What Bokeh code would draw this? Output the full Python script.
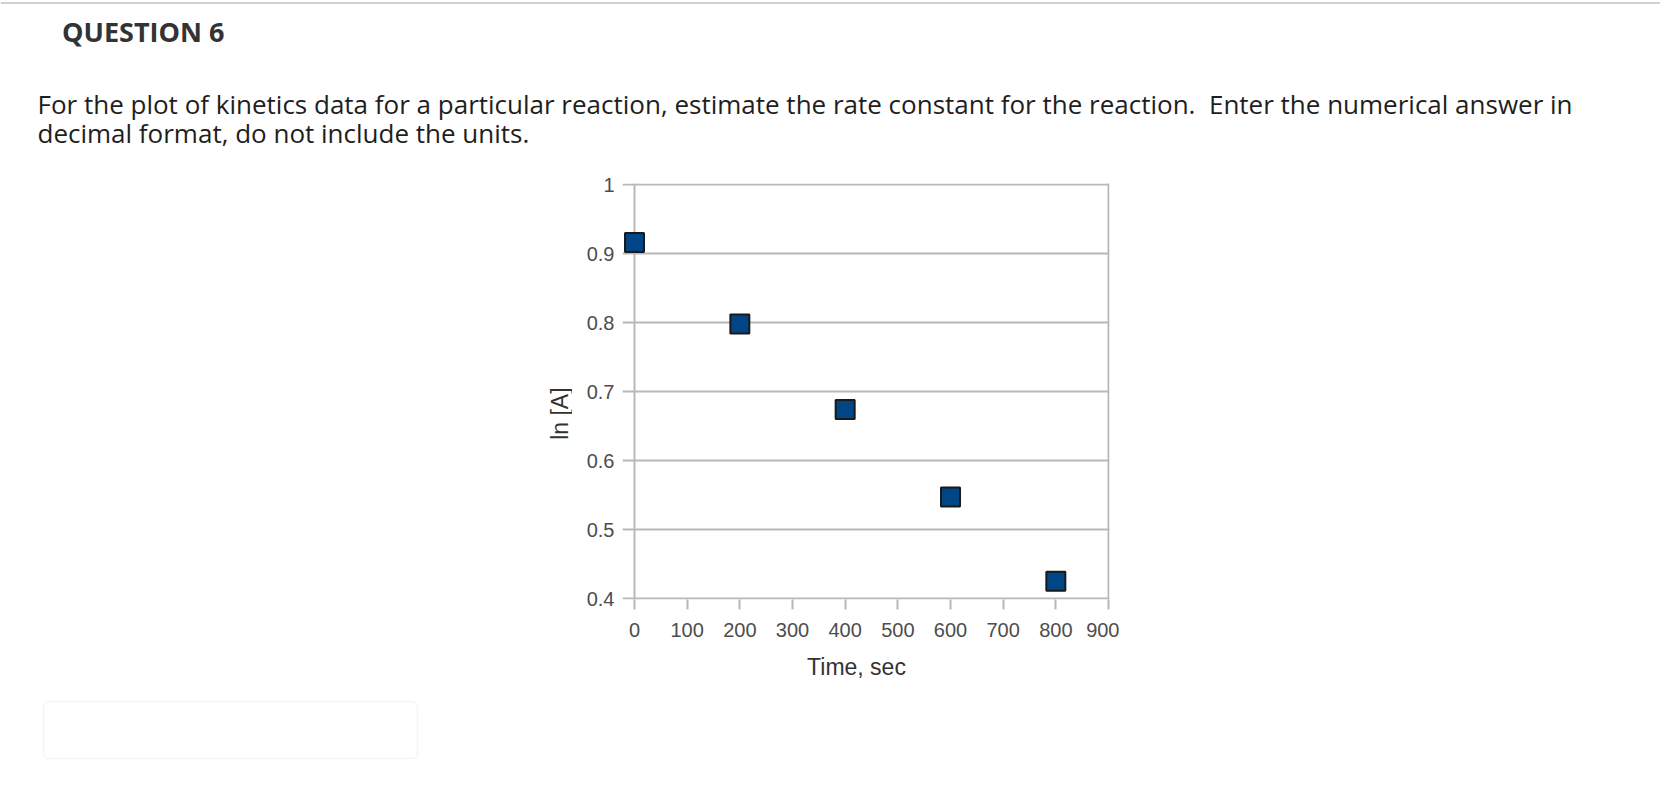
from bokeh.plotting import figure
from bokeh.models import Range1d, FixedTicker, BoxAnnotation
from bokeh.layouts import column, row
from bokeh.core.properties import value
from bokeh.embed import file_html
from bokeh.resources import INLINE

# ---- data ----
time_sec = [0, 200, 400, 600, 800]
ln_A = [0.916, 0.798, 0.674, 0.547, 0.425]
x_ticks = [0, 100, 200, 300, 400, 500, 600, 700, 800, 900]
y_ticks = [0.4, 0.5, 0.6, 0.7, 0.8, 0.9, 1.0]
y_tick_labels = ["0.4", "0.5", "0.6", "0.7", "0.8", "0.9", "1"]

title_text = "QUESTION 6"
body_lines = [
    "For the plot of kinetics data for a particular reaction, estimate the rate constant for the reaction.\u00a0 Enter the numerical answer in",
    "decimal format, do not include the units.",
]
x_title = "Time, sec"
y_title = "ln [A]"

PAGE_W = 1660
GRID = "#b8b8b8"


def blank(w, h):
    """A figure whose frame covers its whole canvas (1 data unit = 1 px)."""
    f = figure(width=w, height=h, output_backend="svg", toolbar_location=None,
               x_range=Range1d(0, w), y_range=Range1d(0, h),
               x_axis_location=None, y_axis_location=None, min_border=0)
    f.grid.visible = False
    f.outline_line_color = None
    f.background_fill_color = "white"
    f.border_fill_color = "white"
    return f


# ---------- header ----------
HDR_TOP, HDR_H = 0, 165


def hy(page_y):
    return HDR_TOP + HDR_H - page_y


hdr = blank(PAGE_W, HDR_H)
hdr.quad(left=[0], right=[PAGE_W], bottom=[hy(3.5)], top=[hy(1.5)],
         fill_color="#d0d0d0", line_color=None)
hdr.text(x=[61.5], y=[hy(30.7)], text=[title_text], text_font=value("Open Sans"),
         text_font_style=value("bold"), text_font_size="27px", text_color="#333333",
         text_baseline="alphabetic", text_align="left")
hdr.text(x=[37, 37], y=[hy(103.9), hy(132.9)], text=body_lines,
         text_font=value("Open Sans"), text_font_size="26px", text_color="#1e1e1e",
         text_baseline="alphabetic", text_align="left")

# ---------- chart ----------
PX_X = 900 / 474.0      # data units per pixel along x
PX_Y = 0.6 / 414.0      # data units per pixel along y
CH_TOP = HDR_TOP + HDR_H
LEFT_B, RIGHT_B, TOP_B, BOT_B = 50, 10, 18, 49
CH_H = TOP_B + 416 + BOT_B
CH_W = LEFT_B + 487 + RIGHT_B

p = figure(width=CH_W, height=CH_H, output_backend="svg", toolbar_location=None,
           x_range=Range1d(-12 * PX_X, 900 + 1 * PX_X),
           y_range=Range1d(0.4 - 1 * PX_Y, 1.0 + 1 * PX_Y),
           min_border_left=LEFT_B, min_border_right=RIGHT_B,
           min_border_top=TOP_B, min_border_bottom=BOT_B)
p.background_fill_color = "white"
p.border_fill_color = "white"
p.outline_line_color = None

# horizontal grid lines (their left overhang forms the y tick marks)
p.ygrid.ticker = FixedTicker(ticks=y_ticks)
p.ygrid.grid_line_color = GRID
p.ygrid.grid_line_width = 2
# vertical lines at x = 0 (axis) and x = 900 (right border)
p.xgrid.ticker = FixedTicker(ticks=[x_ticks[0], x_ticks[-1]])
p.xgrid.grid_line_color = GRID
p.xgrid.grid_line_width = 2

xa, ya = p.xaxis[0], p.yaxis[0]
for ax in (xa, ya):
    ax.minor_tick_line_color = None
    ax.major_label_text_font = "Liberation Sans"
    ax.major_label_text_font_size = "20px"
    ax.major_label_text_color = "#4d4d4d"

xa.ticker = FixedTicker(ticks=x_ticks)
xa.axis_line_color = None
xa.major_tick_line_color = GRID
xa.major_tick_line_width = 2
xa.major_tick_out = 10
xa.major_tick_in = 0
xa.major_label_standoff = 13

ya.ticker = FixedTicker(ticks=y_ticks)
ya.axis_line_color = None
ya.major_tick_line_color = None
ya.major_tick_out = 0
ya.major_tick_in = 0
ya.major_label_standoff = 8
ya.major_label_overrides = dict(zip(y_ticks, y_tick_labels))

p.scatter(time_sec, ln_A, marker="square", size=19,
          fill_color="#004586", line_color="#1a1a1a", line_width=2)

# y-axis title panel to the left of the chart
YT_W = 572
ytf = blank(YT_W, CH_H)
ytf.text(x=[559], y=[CH_TOP + CH_H - 432.2], text=[y_title], angle=1.5707963,
         text_font=value("Liberation Sans"), text_font_size="23px", text_color="#333333",
         text_align="center", text_baseline="middle")

# ---------- footer ----------
FT_TOP = CH_TOP + CH_H
FT_H = 142


def fy(page_y):
    return FT_TOP + FT_H - page_y


ftr = blank(PAGE_W, FT_H)
ftr.text(x=[856], y=[fy(666)], text=[x_title],
         text_font=value("Liberation Sans"), text_font_size="23px", text_color="#333333",
         text_align="center", text_baseline="middle")
ftr.add_layout(BoxAnnotation(left=43, right=417, top=fy(701), bottom=fy(758),
                             fill_color="white", fill_alpha=1, line_color="#dedede",
                             line_width=1.5, border_radius=5))

layout = column(hdr, row(ytf, p), ftr)
open("out.html", "w").write(file_html(layout, INLINE))
